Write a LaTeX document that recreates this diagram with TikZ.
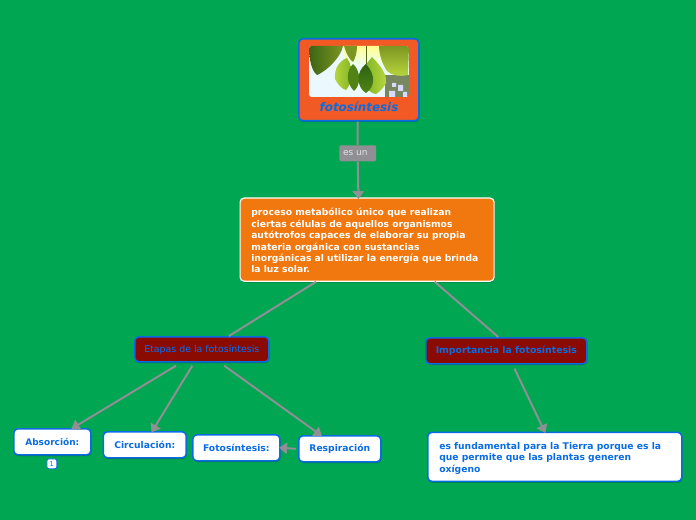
\documentclass[tikz,border=0pt]{standalone}
\usepackage{fontspec}
\setmainfont{DejaVu Sans}
\usetikzlibrary{arrows.meta,calc,shadows}
\definecolor{bgc}{RGB}{0,166,81}
\definecolor{rootc}{RGB}{241,90,36}
\definecolor{blc}{RGB}{10,108,226}
\definecolor{brightbl}{RGB}{0,112,250}
\definecolor{orc}{RGB}{240,120,15}
\definecolor{redc}{RGB}{139,10,2}
\definecolor{linkc}{RGB}{143,143,148}
\definecolor{leafa}{RGB}{60,100,20}
\definecolor{leafb}{RGB}{125,150,35}
\definecolor{leafc}{RGB}{120,175,35}
\definecolor{leafd}{RGB}{185,215,60}
\definecolor{leafe}{RGB}{45,100,20}
\definecolor{leaff}{RGB}{80,130,20}
\definecolor{bokeh}{RGB}{120,135,95}
\tikzset{
 x=0.75pt,y=-0.75pt,
 box/.style={draw=blc,line width=1.2pt,rounded corners=3pt,inner sep=0pt,anchor=north west,
   drop shadow={shadow xshift=0.4pt,shadow yshift=-0.9pt,opacity=.35,fill=black}},
 leafbox/.style={box,fill=white,text=blc,font=\fontsize{6.9pt}{8.6pt}\selectfont\bfseries,align=center},
 redbox/.style={box,fill=redc,text=blc,align=center},
 link/.style={draw=linkc,line width=1.5pt},
 tip/.style={link,-{Triangle[length=6pt,width=8.5pt]},shorten >=-1.2pt},
}
\begin{document}
\begin{tikzpicture}
\useasboundingbox (1,1) rectangle (697,521);
\fill[bgc] (1,1) rectangle (697,521);
% root
\node[box,fill=rootc,minimum width=90pt,minimum height=61.5pt] (root) at (299,39) {};
\node[text=blc,font=\fontsize{8.9pt}{11pt}\selectfont\bfseries\itshape,inner sep=0pt] (rootlabel) at (360,108) {fotosíntesis};
% picture
\begin{scope}
\clip[rounded corners=2pt] (310,47) rectangle (410,98);
\fill[white!92!cyan] (310,47) rectangle (410,98);
\shade[top color=yellow!45!white,bottom color=white!92!cyan] (345,47) rectangle (385,68);
\shade[left color=leafa,right color=leafb] (310,47) -- (344,47) .. controls (342,58) and (328,72) .. (318,76) .. controls (313,72) and (310,62) .. (310,47) -- cycle;
\fill[leafb] (345,47) -- (358,47) .. controls (358,54) and (356,60) .. (354,63) .. controls (350,60) and (347,54) .. (345,47) -- cycle;
\fill[bokeh] (386,76) rectangle (410,98);
\fill[white!85!blue] (390,92) rectangle (396,98) (399,86) rectangle (404,92) (404,93) rectangle (408,98) (393,84) rectangle (397,88);
\shade[top color=leafb,bottom color=leafd] (380,47) -- (410,47) -- (409,76) .. controls (400,78) and (392,76) .. (388,72) .. controls (384,66) and (380,56) .. (380,47) -- cycle;
\shade[left color=leafc,right color=leafd] (373,58) .. controls (385,70) and (388,78) .. (387,84) .. controls (384,90) and (380,93) .. (377,95) .. controls (368,94) and (362,82) .. (365,68) -- cycle;
\shade[left color=leafd,right color=leafc] (348,59) .. controls (340,62) and (335,70) .. (336,80) .. controls (339,86) and (343,90) .. (347,91) .. controls (352,86) and (356,70) .. (348,59) -- cycle;
\fill[leaff] (354,65) .. controls (347,72) and (347,84) .. (355,92) .. controls (362,86) and (362,72) .. (354,65) -- cycle;
\shade[top color=leafe,bottom color=leaff] (367,65) .. controls (357,72) and (357,88) .. (367,94) .. controls (376,88) and (377,76) .. (367,65) -- cycle;
\draw[white,line width=.5pt] (362,47) -- (362,65);
\draw[black!30!leafb,line width=.4pt] (367,47) -- (367,65);
\end{scope}
% label
\node[fill=linkc,rounded corners=1pt,text=white!90!black,font=\fontsize{6.7pt}{8pt}\selectfont,minimum width=27.7pt,minimum height=12pt,inner sep=0pt,anchor=north west] (esun) at (340,146) {\hspace*{-3.5pt}\raisebox{-.6pt}{es un}};
% main
\node[box,draw=white,line width=.9pt,fill=orc,minimum width=190.5pt,minimum height=62.3pt] (main) at (240.5,198.5) {};
\node[anchor=north west,inner sep=0pt,text=white,align=left,font=\fontsize{6.9pt}{8.6pt}\selectfont\bfseries] (maintext) at (252,209) {proceso metabólico único que realizan\\ciertas células de aquellos organismos\\autótrofos capaces de elaborar su propia\\materia orgánica con sustancias\\inorgánicas al utilizar la energía que brinda\\la luz solar.};
% second level
\node[redbox,text=brightbl,minimum width=100.5pt,minimum height=18.8pt,font=\fontsize{7.05pt}{8.6pt}\selectfont] (etapas) at (135,337) {Etapas de la fotosíntesis};
\node[redbox,minimum width=120.8pt,minimum height=19.5pt,font=\fontsize{7pt}{8.6pt}\selectfont\bfseries] (impo) at (426,338) {Importancia la fotosíntesis};
% leaves
\node[leafbox,minimum width=57.8pt,minimum height=19.5pt,font=\fontsize{6.75pt}{8.6pt}\selectfont\bfseries] (abs) at (14,429) {Absorción:};
\node[leafbox,minimum width=62.2pt,minimum height=19.5pt] (circ) at (103.5,432) {Circulación:};
\node[leafbox,minimum width=65.3pt,minimum height=19.5pt] (foto) at (193,435) {\raisebox{-.5pt}{Fotosíntesis:}};
\node[leafbox,minimum width=61.5pt,minimum height=19.5pt] (resp) at (299,436) {\raisebox{-.5pt}{Respiración}};
\node[leafbox,minimum width=190.5pt,minimum height=36.8pt] (fund) at (428,432.5) {};
\node[anchor=north west,inner sep=0pt,text=blc,align=left,font=\fontsize{6.9pt}{8.6pt}\selectfont\bfseries] (fundtext) at (440,443) {es fundamental para la Tierra porque es la\\que permite que las plantas generen\\oxígeno};
\node[draw=blc,line width=.6pt,fill=white,rounded corners=1.5pt,minimum width=7.4pt,minimum height=7.4pt,inner sep=0pt,text=blc,font=\fontsize{5pt}{6pt}\selectfont,anchor=north west] (badge) at (47.5,459.5) {1};
% connectors
\draw[link] ($(root.south west)!.49!(root.south east)$) -- ($(esun.north west)!.5!(esun.north east)$);
\draw[tip] ($(esun.south west)!.5!(esun.south east)$) -- ($(main.north west)!.466!(main.north east)$);
\draw[link] ($(main.south west)!.30!(main.south east)$) -- ($(etapas.north west)!.70!(etapas.north east)$);
\draw[link] ($(main.south west)!.765!(main.south east)$) -- ($(impo.north west)!.45!(impo.north east)$);
\draw[tip] ($(etapas.south west)!.31!(etapas.south east)+(0,3)$) -- ($(abs.north west)!.76!(abs.north east)$);
\draw[tip] ($(etapas.south west)!.43!(etapas.south east)+(0,3)$) -- ($(circ.north west)!.59!(circ.north east)$);
\draw[tip] ($(etapas.south west)!.665!(etapas.south east)+(0,3)$) -- ($(resp.north west)!.27!(resp.north east)$);
\draw[tip] ($(impo.south west)!.55!(impo.south east)+(0,4)$) -- ($(fund.north west)!.46!(fund.north east)$);
\draw[tip] ($(resp.west)+(-2,0)$) -- (foto.east);
\end{tikzpicture}
\end{document}
